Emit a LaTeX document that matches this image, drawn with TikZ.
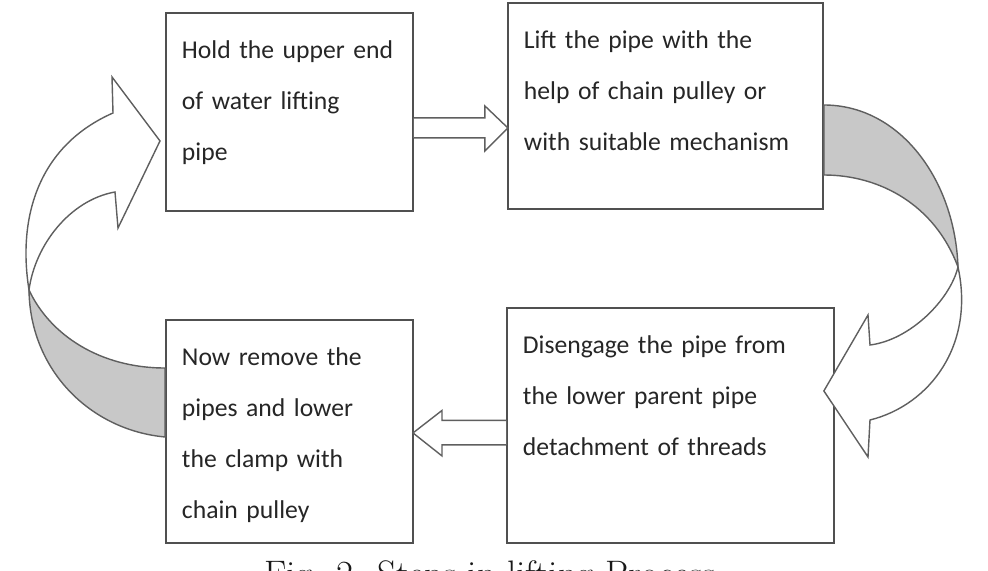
\documentclass[tikz,border=0pt]{standalone}
\usepackage{fontspec}
\usetikzlibrary{calc}
\newfontfamily\boxfont{Carlito}[WordSpace=0.55]
\definecolor{boxline}{RGB}{80,80,80}
\definecolor{arrowline}{RGB}{95,95,95}
\definecolor{backfill}{RGB}{200,200,200}
\tikzset{
  stepbox/.style={draw=boxline, line width=1.1pt, fill=white, anchor=north west,
    inner xsep=0.32cm, inner ysep=0.2cm, text height=0.72cm, align=left,
    font=\boxfont\fontsize{14.6pt}{29pt}\selectfont, text=black!85},
  blockarrow/.style={draw=arrowline, line width=0.8pt, fill=white},
  backarrow/.style={draw=arrowline, line width=0.8pt, fill=backfill}
}

\begin{document}
\begin{tikzpicture}[x=0.02cm, y=-0.02cm]
  \useasboundingbox (0,0) rectangle (988,571);

  % Step boxes
  \node[stepbox, text width=4.30cm, text depth=2.84cm] (hold) at (165,12)
    {Hold the upper end\\of water lifting\\pipe};
  \node[stepbox, text width=5.66cm, text depth=3.0cm] (lift) at (507,2)
    {Lift the pipe with the\\help of chain pulley or\\with suitable mechanism};
  \node[stepbox, text width=5.90cm, text depth=3.58cm] (disengage) at (506,307)
    {Disengage the pipe from\\the lower parent pipe\\detachment of threads};
  \node[stepbox, text width=4.30cm, text depth=3.34cm] (remove) at (165,319)
    {Now remove the\\pipes and lower\\the clamp with\\chain pulley};

  % Straight block arrows
  \draw[blockarrow] ($(hold.east)+(0,6)$) -- ++(71,0) -- ++(0,-12) -- ++(23,22)
    -- ++(-23,23) -- ++(0,-13) -- ++(-71,0);
  \draw[blockarrow] ($(disengage.west)+(0,-5)$) -- ++(-64,0) -- ++(0,-10) -- ++(-29,22.5)
    -- ++(29,23) -- ++(0,-11) -- ++(64,0);

  % Curved arrow on the left, back then front
  \coordinate (lcross) at (29,290);
  \draw[backarrow] (lcross) .. controls (30,370) and (90,430) .. ($(remove.north west)+(0,118)$)
    -- ($(remove.north west)+(0,49)$) .. controls (100,368) and (50,335) .. (lcross) -- cycle;
  \draw[blockarrow] (lcross) .. controls (17,215) and (40,145) .. (113,113) -- (112,77)
    -- ($(hold.west)+(-5,29)$) -- (118,228) -- (115,192)
    .. controls (70,200) and (35,245) .. (lcross) -- cycle;

  % Curved arrow on the right, back then front
  \coordinate (rcross) at (958,267);
  \draw[backarrow] ($(lift.north east)+(0,103)$) .. controls (900,105) and (955,180) .. (rcross)
    .. controls (935,205) and (880,175) .. ($(lift.north east)+(0,173)$) -- cycle;
  \draw[blockarrow] (rcross) .. controls (975,345) and (930,405) .. (870,420) -- (868,457)
    -- ($(disengage.east)+(-11,-34.5)$) -- (868,315) -- (870,345)
    .. controls (910,340) and (950,300) .. (rcross) -- cycle;

  % Caption
  \node[anchor=base, font=\fontsize{21pt}{25pt}\selectfont, text=black!90] (caption)
    at (490,586) {Fig. 2. Steps in lifting Process};
\end{tikzpicture}
\end{document}
